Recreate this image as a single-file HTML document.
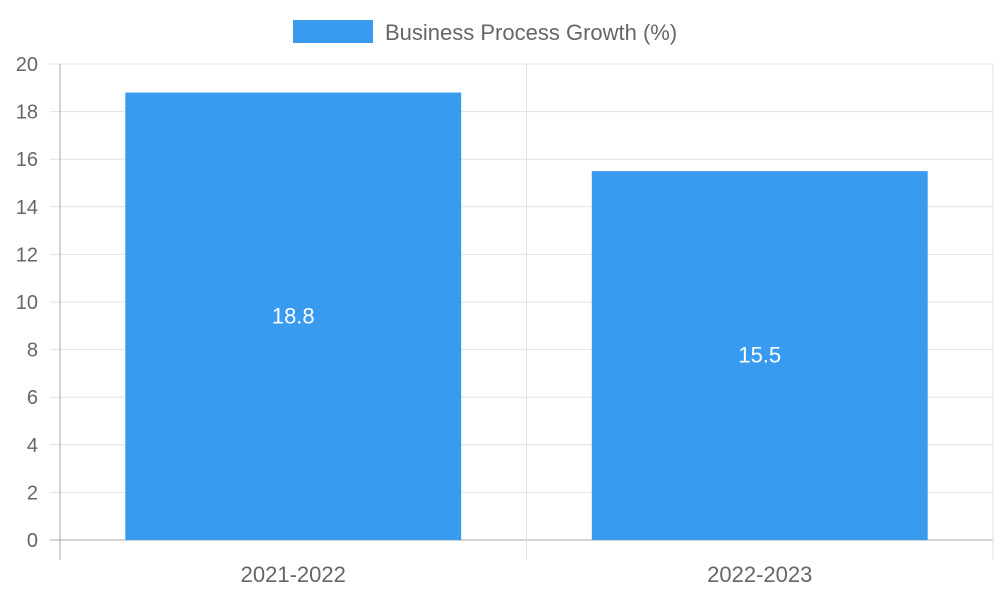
<!DOCTYPE html>
<html><head><meta charset="utf-8"><style>
body{margin:0;background:#fff;}
svg{display:block;font-family:"Liberation Sans",sans-serif;}
</style></head><body>
<svg id="chart" width="1000" height="600" viewBox="0 0 1000 600">
<g>
<rect x="293" y="20" width="80" height="23" fill="#389bf0"/>
<text x="385" y="40" font-size="22" fill="#666">Business Process Growth (%)</text>
</g>
<g id="grid"></g>
<g id="bars"></g>
<g id="axes"></g>
</svg>
<script>
const categories = ["2021-2022", "2022-2023"];
const values = [18.8, 15.5];
const yTicks = [0, 2, 4, 6, 8, 10, 12, 14, 16, 18, 20];
const L = 60, R = 993, T = 64, B = 540, yMax = 20;
const ns = "http://www.w3.org/2000/svg";
function y(v){ return B - (v / yMax) * (B - T); }
const band = (R - L) / categories.length;
function xc(i){ return L + band * (i + 0.5); }
function mk(tag, attrs, parent, txt){
  const e = document.createElementNS(ns, tag);
  for (const k in attrs) e.setAttribute(k, attrs[k]);
  if (txt !== undefined) e.textContent = txt;
  parent.appendChild(e); return e;
}
const grid = document.getElementById("grid"), bars = document.getElementById("bars"), axes = document.getElementById("axes");
yTicks.forEach(t => {
  const l = mk("line", {x1: 50, x2: R, y1: y(t), y2: y(t), stroke: t === 0 ? "#aaa" : "#e2e2e2", "stroke-width": 1}, grid);
  
  
  const tx = mk("text", {x: 38, y: y(t) + 7, "text-anchor": "end", "font-size": 20, fill: "#666"}, axes, String(t));
  
  
});
for (let i = 0; i <= categories.length; i++) {
  const x = L + band * i;
  const l = mk("line", {x1: x, x2: x, y1: T, y2: 560, stroke: i === 0 ? "#aaa" : "#e2e2e2", "stroke-width": 1}, grid);
  
  
}
categories.forEach((c, i) => {
  const w = band * 0.72;
  const r = mk("rect", {x: xc(i) - w / 2, y: y(values[i]), width: w, height: B - y(values[i]), fill: "#389bf0"}, bars);
  
  
  const v = mk("text", {x: xc(i), y: (y(values[i]) + B) / 2 + 7, "text-anchor": "middle", "font-size": 22, fill: "#fff"}, bars, String(values[i]));
  
  
  const xl = mk("text", {x: xc(i), y: 582, "text-anchor": "middle", "font-size": 22, fill: "#666"}, axes, c);
  
  
});
</script>
</body></html>
